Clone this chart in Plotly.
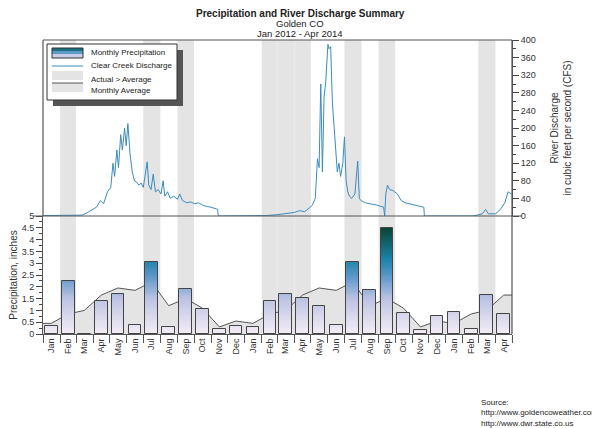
import pandas as pd
import plotly.graph_objects as go

# monthly precipitation, Jan 2012 - Apr 2014 (inches)
precip = [0.35, 2.25, 0.02, 1.38, 1.70, 0.38, 3.05, 0.30, 1.92, 1.08, 0.20, 0.32,
          0.28, 1.38, 1.70, 1.52, 1.20, 0.38, 3.07, 1.87, 4.50, 0.88, 0.15, 0.75,
          0.93, 0.22, 1.65, 0.85]
# long-term monthly average (Jan..Dec)
avg_month = [0.45, 0.85, 1.00, 1.65, 1.95, 1.85, 2.20, 1.20, 1.50, 1.10, 0.30, 0.55]
month_labels = ["Jan", "Feb", "Mar", "Apr", "May", "Jun", "Jul", "Aug", "Sep", "Oct", "Nov", "Dec"]

# Clear Creek discharge (CFS)
q_dates = ["2012-01-01", "2012-02-01", "2012-03-01", "2012-03-12", "2012-03-22", "2012-03-30",
           "2012-04-07", "2012-04-14", "2012-04-20", "2012-04-27", "2012-05-03", "2012-05-07",
           "2012-05-10", "2012-05-14", "2012-05-17", "2012-05-21", "2012-05-24", "2012-05-28",
           "2012-05-31", "2012-06-03", "2012-06-07", "2012-06-11", "2012-06-15", "2012-06-19",
           "2012-06-23", "2012-06-27", "2012-07-01", "2012-07-04", "2012-07-08", "2012-07-11",
           "2012-07-15", "2012-07-19", "2012-07-23", "2012-07-28", "2012-08-02", "2012-08-06",
           "2012-08-09", "2012-08-14", "2012-08-19", "2012-08-25", "2012-09-01", "2012-09-05",
           "2012-09-10", "2012-09-18", "2012-09-25", "2012-10-02", "2012-10-09", "2012-10-16",
           "2012-10-23", "2012-11-01", "2012-11-08", "2012-11-13", "2012-11-14", "2012-12-15",
           "2013-01-15", "2013-02-10", "2013-03-01", "2013-03-15", "2013-04-01", "2013-04-10",
           "2013-04-20", "2013-04-28", "2013-05-04", "2013-05-09", "2013-05-13", "2013-05-16",
           "2013-05-19", "2013-05-22", "2013-05-25", "2013-05-28", "2013-06-01", "2013-06-03",
           "2013-06-06", "2013-06-09", "2013-06-12", "2013-06-15", "2013-06-18", "2013-06-21",
           "2013-06-24", "2013-06-28", "2013-07-01", "2013-07-04", "2013-07-07", "2013-07-10",
           "2013-07-14", "2013-07-20", "2013-07-25", "2013-07-28", "2013-07-31", "2013-08-08",
           "2013-08-18", "2013-08-28", "2013-09-05", "2013-09-10", "2013-09-12", "2013-09-14",
           "2013-09-17", "2013-09-21", "2013-09-27", "2013-10-05", "2013-10-12", "2013-10-19",
           "2013-10-26", "2013-11-05", "2013-11-15", "2013-11-22", "2013-11-23", "2013-12-20",
           "2014-01-20", "2014-02-20", "2014-03-08", "2014-03-14", "2014-03-19", "2014-04-01",
           "2014-04-10", "2014-04-18", "2014-04-24", "2014-04-30"]
q_vals = [1, 1, 1, 2, 8, 15,
          20, 35, 28, 55, 65, 120,
          90, 150, 110, 185, 150, 200,
          160, 210, 140, 100, 80, 77,
          70, 75, 65, 90, 123, 70,
          60, 95, 55, 60, 50, 80,
          45, 55, 40, 45, 38, 50,
          35, 30, 32, 28, 30, 25,
          22, 20, 18, 15, 0, 0,
          0, 1, 3, 5, 8, 12,
          10, 18, 25, 40, 130, 110,
          300, 100, 270, 305, 390, 380,
          385, 260, 200, 150, 100, 120,
          90, 120, 180, 80, 55, 45,
          40, 50, 125, 40, 35, 30,
          28, 25, 22, 20, 0, 50,
          70, 60, 58, 50, 35, 30,
          28, 25, 22, 20, 0, 0,
          0, 0, 5, 15, 5, 5,
          15, 30, 55, 50]

above_avg = ["2012-02", "2012-07", "2012-09", "2013-02", "2013-03", "2013-04",
             "2013-07", "2013-09", "2014-03"]

months = pd.date_range("2012-01-01", periods=len(precip), freq="MS")
mids = months + pd.Timedelta(days=15)
avg = [avg_month[m.month - 1] for m in months]
end = months[-1] + pd.offsets.MonthBegin(1)

# page has an 8px body margin; positions below are in screenshot pixels
OFF = 8
W, H = 600 - OFF, 428 - OFF
L, R = 43, 512
BW = 23 * 86400000


def px(x):
    return (x - L) / (R - L)


def py(y):
    return 1 - (y - OFF) / H


d_bot = [py(334), py(216)]
d_top = [py(216), py(40)]

fig = go.Figure()

fig.add_trace(go.Scatter(x=[months[0]] + list(mids) + [end], y=[avg[0]] + avg + [avg[-1]],
                         fill="tozeroy", fillcolor="#e4e4e4", line=dict(color="#555", width=1),
                         showlegend=False, xaxis="x", yaxis="y"))

# vertical gradient bars by stacking clipped copies
stops = [(0.0, (246, 238, 246)), (1.5, (190, 196, 228)), (2.5, (90, 150, 200)),
         (3.2, (28, 130, 168)), (4.5, (10, 70, 55))]


def grad(v):
    for (a, ca), (b, cb) in zip(stops, stops[1:]):
        if v <= b:
            t = (v - a) / (b - a)
            return "rgb(%d,%d,%d)" % tuple(ca[i] + t * (cb[i] - ca[i]) for i in range(3))
    return "rgb(%d,%d,%d)" % stops[-1][1]


levels = [round(4.5 - 0.05 * i, 2) for i in range(91)]
for lv in levels:
    fig.add_trace(go.Bar(x=mids, y=[min(p, lv) for p in precip], marker_color=grad(lv),
                         marker_line_width=0, width=BW, showlegend=False,
                         hoverinfo="skip", xaxis="x", yaxis="y3"))
fig.add_trace(go.Bar(x=mids, y=precip, marker=dict(color="rgba(0,0,0,0)",
                     line=dict(color="#444", width=1)), width=BW,
                     showlegend=False, xaxis="x", yaxis="y3"))

fig.add_trace(go.Scatter(x=pd.to_datetime(q_dates), y=q_vals, mode="lines",
                         line=dict(color="#3a8cc0", width=1), showlegend=False,
                         xaxis="x", yaxis="y2"))

shapes = []
for m in above_avg:
    s = pd.Timestamp(m + "-01")
    shapes.append(dict(type="rect", xref="x", yref="paper", x0=s, x1=s + pd.offsets.MonthBegin(1),
                       y0=d_bot[0], y1=d_top[1], fillcolor="#e4e4e4", line_width=0, layer="below"))
# frame lines
for x0, y0, x1, y1 in [(0, d_top[1], 1, d_top[1]), (px(33), d_bot[1], px(522), d_bot[1]),
                       (0, d_bot[1], 0, d_top[1]), (1, d_bot[0], 1, d_top[1])]:
    shapes.append(dict(type="line", xref="paper", yref="paper", x0=x0, y0=y0, x1=x1, y1=y1,
                       line=dict(color="#555", width=1.2)))


def box(x0, y0, x1, y1, **kw):
    shapes.append(dict(type="rect", xref="paper", yref="paper", x0=px(x0), x1=px(x1),
                       y0=py(y1), y1=py(y0), **kw))


# hand-drawn legend box with drop shadow
box(53, 50, 183, 106, fillcolor="#555", line_width=0)
box(47, 44, 177, 100, fillcolor="white", line=dict(color="#333", width=1))
box(52, 48, 83, 51, fillcolor="#1b6f80", line_width=0)
box(52, 51, 83, 54, fillcolor="#5a9ac4", line_width=0)
box(52, 54, 83, 58, fillcolor="#c9cde6", line=dict(color="#333", width=0))
box(52, 48, 83, 58, fillcolor="rgba(0,0,0,0)", line=dict(color="#333", width=1))
shapes.append(dict(type="line", xref="paper", yref="paper", x0=px(52), x1=px(83), y0=py(66),
                   y1=py(66), line=dict(color="#3a8cc0", width=1)))
box(52, 71, 83, 80, fillcolor="#e4e4e4", line_width=0)
box(52, 83, 83, 92, fillcolor="#e4e4e4", line_width=0)
shapes.append(dict(type="line", xref="paper", yref="paper", x0=px(52), x1=px(83), y0=py(83),
                   y1=py(83), line=dict(color="#555", width=1)))

ttl = dict(family="Liberation Sans, Arial", color="#222")
annotations = [
    dict(text="<b>Precipitation and River Discharge Summary</b>", x=px(300), y=py(13.5),
         yanchor="middle", showarrow=False, font=dict(size=10, **ttl)),
    dict(text="Golden CO", x=px(300), y=py(24), yanchor="middle", showarrow=False,
         font=dict(size=9.5, **ttl)),
    dict(text="Jan 2012 - Apr 2014", x=px(300), y=py(33.5), yanchor="middle",
         showarrow=False, font=dict(size=9.5, **ttl)),
    dict(text="Source:<br>http://www.goldencoweather.com<br>http://www.dwr.state.co.us",
         x=px(479), y=py(396), xanchor="left", yanchor="top", align="left",
         showarrow=False, font=dict(size=8, **ttl)),
]
for t, y in [("Monthly Precipitation", 53), ("Clear Creek Discharge", 66),
             ("Actual > Average", 79), ("Monthly Average", 91)]:
    annotations.append(dict(text=t, x=px(89), y=py(y), xanchor="left", yanchor="middle",
                            showarrow=False, font=dict(size=8, **ttl)))
for a in annotations:
    a.update(xref="paper", yref="paper")

fig.update_layout(
    width=W, height=H, margin=dict(l=L - OFF, r=600 - R, t=0, b=0, autoexpand=False),
    plot_bgcolor="white", paper_bgcolor="white", barmode="overlay", bargap=0,
    font=dict(family="Liberation Sans, Arial", size=9, color="#333"),
    shapes=shapes, annotations=annotations, showlegend=False,
    xaxis=dict(type="date", range=[months[0], end], tickvals=mids, automargin=False,
               ticktext=[month_labels[m.month - 1] for m in months], tickangle=-90, ticks="",
               showgrid=False, zeroline=False, showline=True, linecolor="#555", anchor="y",
               minor=dict(ticks="outside", ticklen=8, tickcolor="#555", dtick="M1",
                          tick0="2012-01-01", showgrid=False)),
    yaxis=dict(domain=d_bot, range=[0, 5], dtick=0.5, ticks="outside", ticklen=6, showgrid=False,
               zeroline=False, showline=True, linecolor="#555", automargin=False,
               minor=dict(ticks="outside", ticklen=3, dtick=0.25),
               title=dict(text="Precipitation, inches", font=dict(size=10), standoff=2)),
    yaxis3=dict(overlaying="y", range=[0, 5], visible=False),
    yaxis2=dict(domain=d_top, range=[0, 400], dtick=40, side="right", anchor="x", ticks="outside",
                ticklen=6, showgrid=False, zeroline=False, showline=True, linecolor="#555",
                automargin=False, minor=dict(ticks="outside", ticklen=3, dtick=20),
                title=dict(text="River Discharge<br>in cubic feet per second (CFS)",
                           font=dict(size=10), standoff=16)),
)

fig.write_html("out.html")
